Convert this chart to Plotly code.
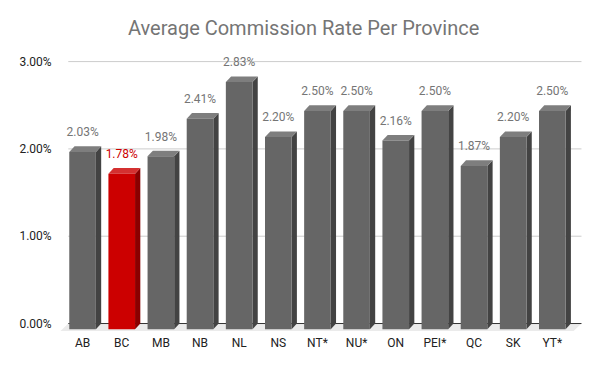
import plotly.graph_objects as go

provinces = ["AB", "BC", "MB", "NB", "NL", "NS", "NT*", "NU*", "ON", "PEI*", "QC", "SK", "YT*"]
rates = [2.03, 1.78, 1.98, 2.41, 2.83, 2.20, 2.50, 2.50, 2.16, 2.50, 1.87, 2.20, 2.50]
highlight = "BC"
y_ticks = [0, 1, 2, 3]
y_tick_text = ["0.00%", "1.00%", "2.00%", "3.00%"]

# geometry (in axis units)
W = 0.68      # bar width (categories)
DX = 0.135    # depth offset in categories
DY = 0.065    # depth offset in value units
FDX = 0.2
FDY = 0.085
X0, X1 = -0.5, 12.61

gray = dict(front="#666666", top="#7e7e7e", side="#434343", label="#757575")
red = dict(front="#cc0000", top="#d43030", side="#8a0000", label="#cc0000")

fig = go.Figure()

def poly(xs, ys, color):
    fig.add_trace(go.Scatter(x=xs + [xs[0]], y=ys + [ys[0]], mode="lines", fill="toself",
                             fillcolor=color, line=dict(width=0, color=color),
                             hoverinfo="skip", showlegend=False))

# floor
poly([X0, X1, X1 - FDX, X0 - FDX], [0, 0, -FDY, -FDY], "#ebebeb")

# gridlines
for t in y_ticks:
    fig.add_trace(go.Scatter(x=[X0, X1], y=[t, t], mode="lines",
                             line=dict(color="#333333" if t == 0 else "#cccccc", width=1),
                             hoverinfo="skip", showlegend=False))

for i, (p, v) in enumerate(zip(provinces, rates)):
    c = red if p == highlight else gray
    l, r = i - W / 2, i + W / 2
    # side
    poly([r - DX, r, r, r - DX], [-DY, 0, v, v - DY], c["side"])
    # top
    poly([l - DX, r - DX, r, l], [v - DY, v - DY, v, v], c["top"])
    # front
    poly([l - DX, r - DX, r - DX, l - DX], [-DY, -DY, v - DY, v - DY], c["front"])
    fig.add_trace(go.Scatter(x=[i - DX], y=[v + 0.15], mode="text", text=[f"{v:.2f}%"],
                             textposition="middle center",
                             textfont=dict(family="Roboto", size=12, color=c["label"]),
                             hoverinfo="skip", showlegend=False, cliponaxis=False))

fig.update_layout(
    width=600, height=371,
    margin=dict(l=58, r=14.7, t=45.1, b=36.9),
    paper_bgcolor="white", plot_bgcolor="white",
    font=dict(family="Roboto", size=12, color="#222222"),
    title=dict(text="Average Commission Rate Per Province", x=0.506, xref="container",
               y=1 - 28 / 371, yref="container", xanchor="center", yanchor="middle",
               font=dict(family="Roboto", size=20, color="#757575")),
    xaxis=dict(range=[-0.763, 12.7], showgrid=False, zeroline=False, showline=False,
               tickvals=[i - DX for i in range(len(provinces))], ticktext=provinces,
               ticks="", tickfont=dict(size=12, color="#222222")),
    yaxis=dict(range=[-0.12, 3.19], showgrid=False, zeroline=False, showline=False,
               tickvals=y_ticks, ticktext=y_tick_text, ticks="outside", ticklen=3,
               tickcolor="rgba(0,0,0,0)", tickfont=dict(size=12, color="#222222")),
)

fig.write_html("out.html", config={"displayModeBar": False},
               post_script="document.body.style.margin='0';")
